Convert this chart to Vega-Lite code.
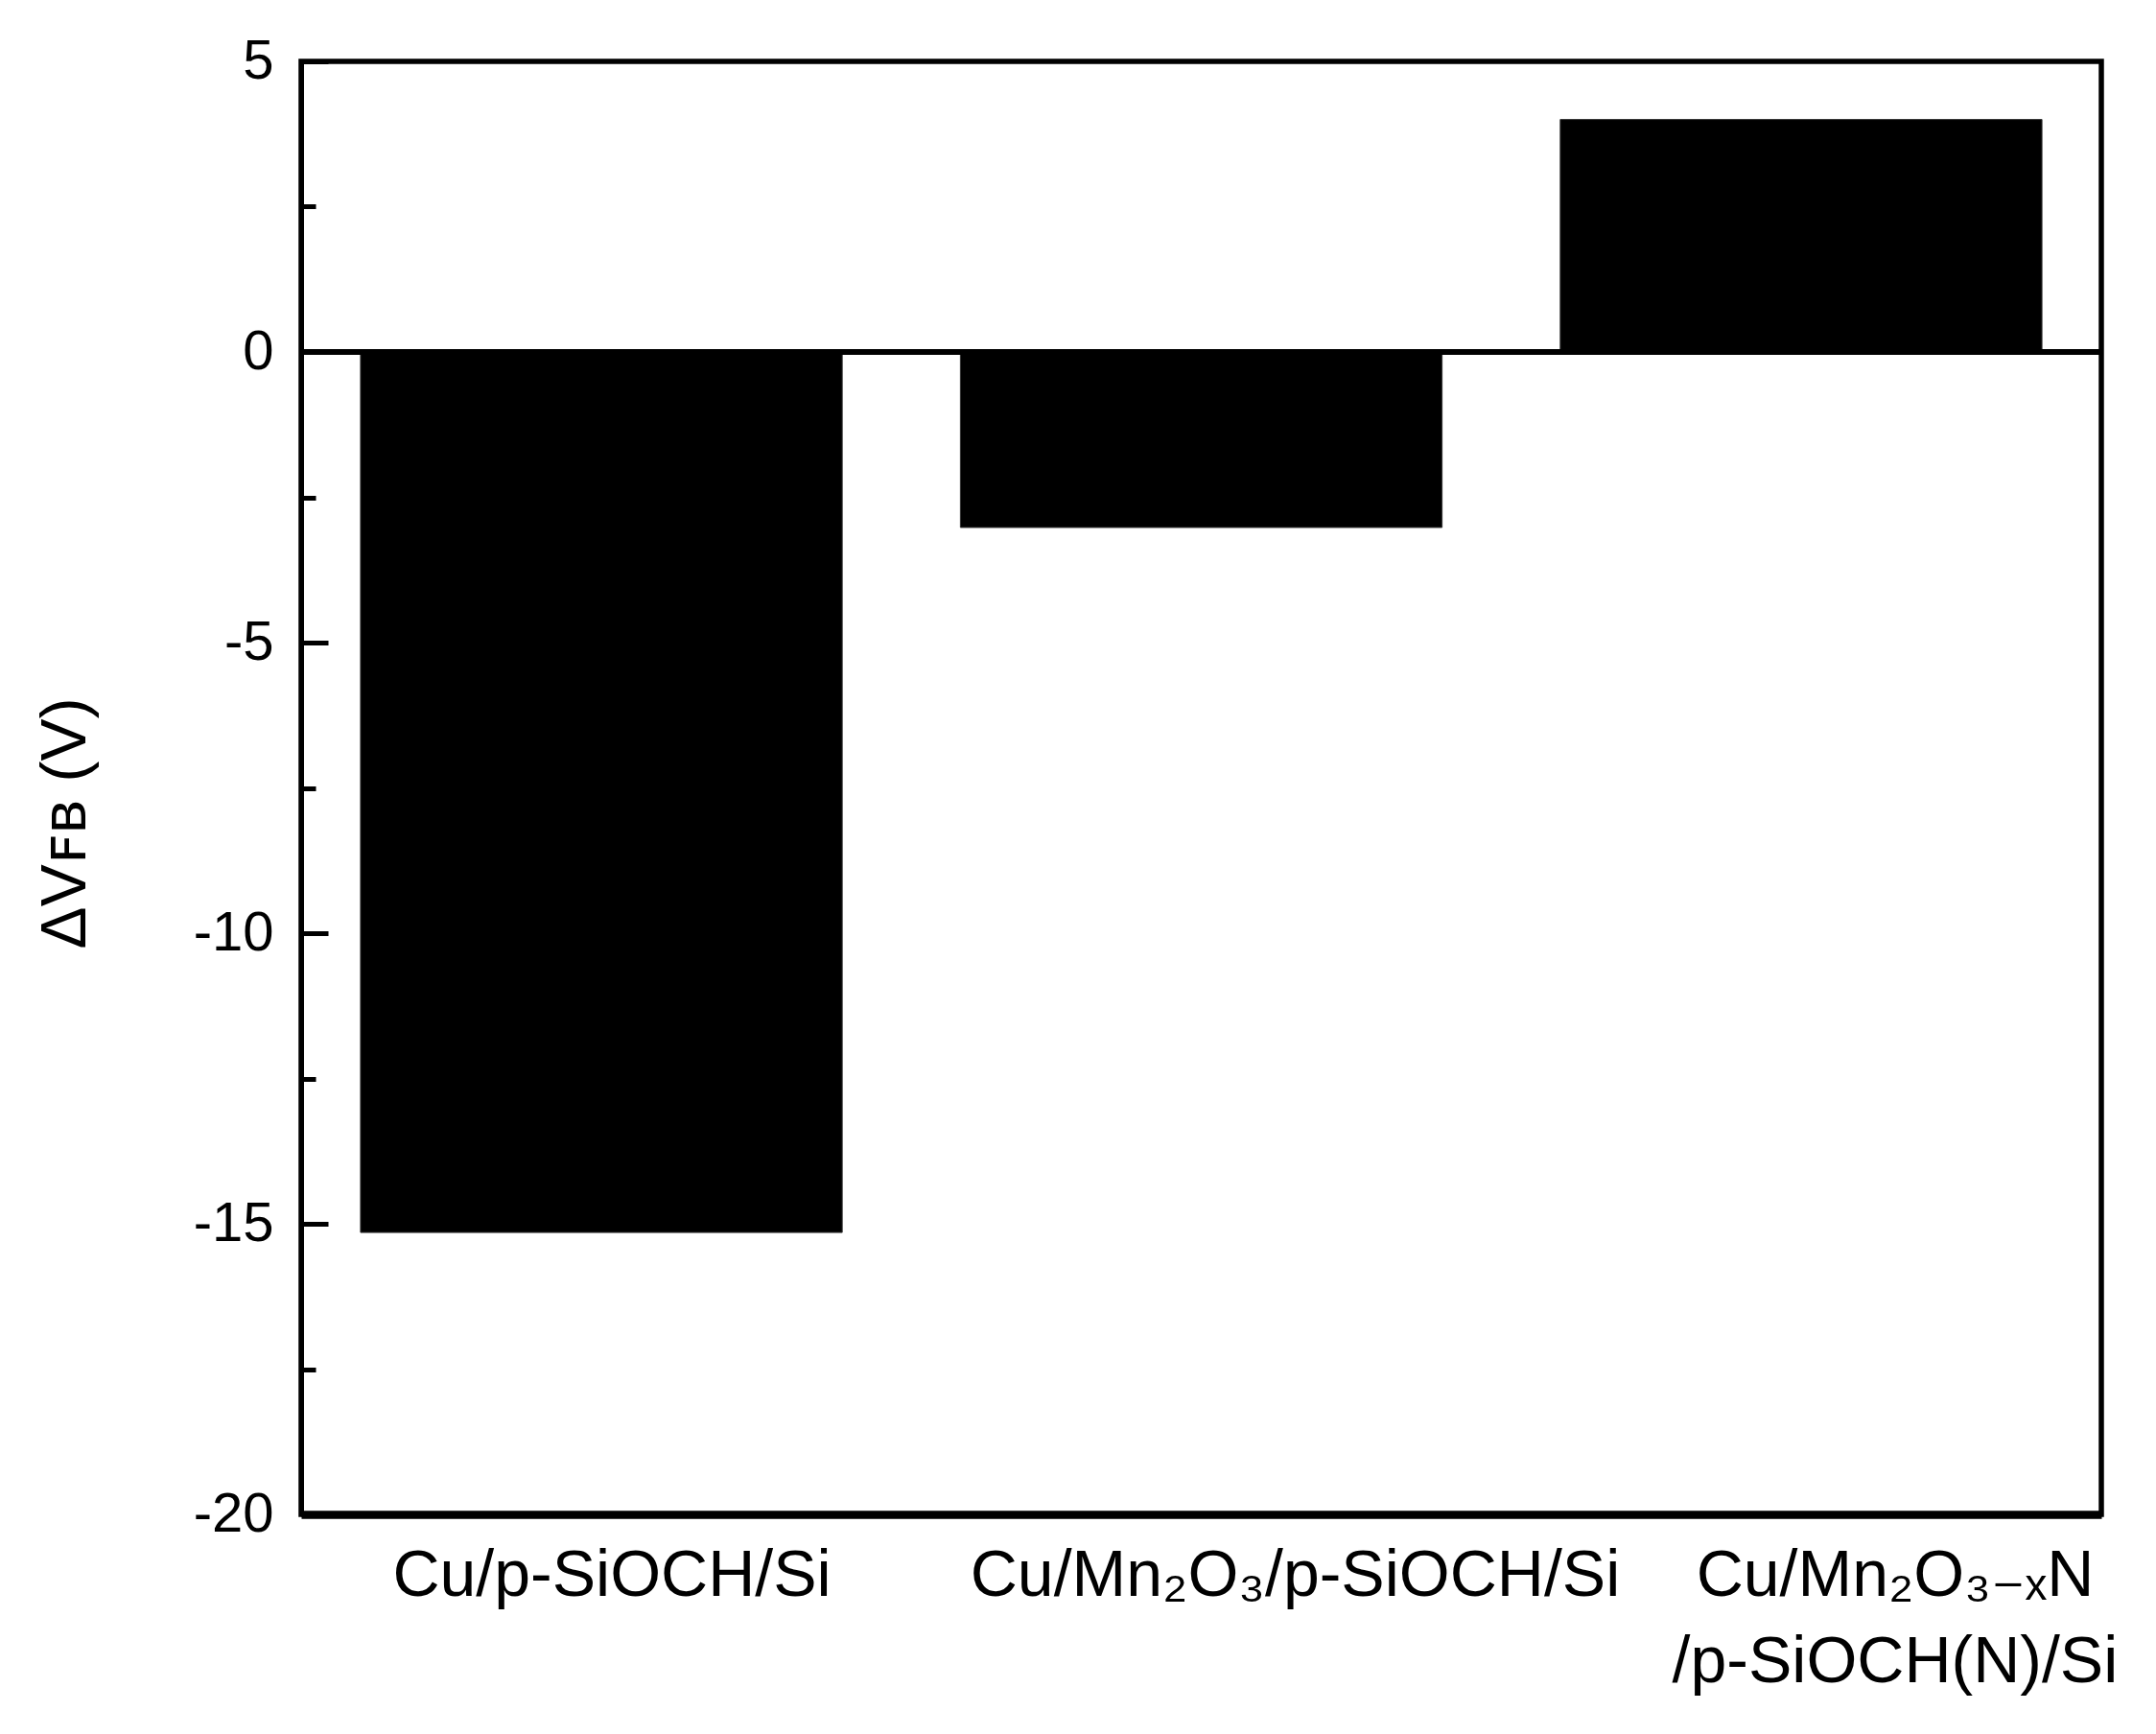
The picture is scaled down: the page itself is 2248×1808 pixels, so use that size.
{
  "$schema": "https://vega.github.io/schema/vega-lite/v6.json",
  "width": 1877,
  "height": 1515,
  "autosize": {"type": "none"},
  "padding": {"left": 314, "top": 64, "right": 57, "bottom": 229},
  "background": "white",
  "config": {
    "view": {"stroke": "black", "strokeWidth": 5.5},
    "font": "Liberation Sans"
  },
  "data": {
    "values": [
      {"sample": "Cu/p-SiOCH/Si", "dVfb": -15.15},
      {"sample": "Cu/Mn₂O₃/p-SiOCH/Si", "dVfb": -3.02},
      {"sample": "Cu/Mn₂O₃₋ₓN/p-SiOCH(N)/Si", "dVfb": 4.0}
    ]
  },
  "resolve": {"axis": {"y": "independent"}},
  "layer": [
    {
      "mark": {"type": "bar", "color": "black", "stroke": "#333333", "strokeWidth": 1},
      "encoding": {
        "x": {
          "field": "sample",
          "type": "nominal",
          "sort": null,
          "scale": {"paddingInner": 0.197, "paddingOuter": 0.099},
          "axis": {
            "title": null,
            "ticks": false,
            "domainWidth": 8.5,
            "domainColor": "black",
            "labelAngle": 0,
            "labelFont": "Liberation Sans, DejaVu Sans, sans-serif",
            "labelFontSize": 68,
            "labelColor": "black",
            "labelPadding": 30,
            "labelBaseline": "top",
            "labelLineHeight": 90,
            "labelLimit": 0,
            "labelOverlap": false,
            "labelExpr": "datum.label == 'Cu/Mn₂O₃₋ₓN/p-SiOCH(N)/Si' ? ['Cu/Mn₂O₃₋ₓN', '/p-SiOCH(N)/Si'] : datum.label",
            "labelOffset": {"condition": {"test": "datum.value == 'Cu/p-SiOCH/Si'", "value": 11}, "value": 98}
          }
        },
        "y": {
          "field": "dVfb",
          "type": "quantitative",
          "scale": {"domain": [-20, 5], "nice": false, "zero": false},
          "axis": {
            "orient": "left",
            "values": [-20, -15, -10, -5, 0, 5],
            "grid": false,
            "ticks": false,
            "domainWidth": 5,
            "domainColor": "black",
            "labelExpr": "toString(datum.value)",
            "labelFont": "Liberation Sans",
            "labelFontSize": 58,
            "labelColor": "black",
            "labelPadding": 29,
            "labelBaseline": "middle",
            "title": "ΔVꜰʙ (V)",
            "titleFont": "Liberation Sans, DejaVu Sans, sans-serif",
            "titleFontSize": 66,
            "titleFontWeight": "normal",
            "titleColor": "black",
            "titleAngle": 270,
            "titleAlign": "center",
            "titleBaseline": "alphabetic",
            "titleX": -226,
            "titleY": 794
          }
        }
      }
    },
    {
      "mark": {"type": "rule", "color": "black", "strokeWidth": 6},
      "encoding": {
        "y": {
          "datum": 0,
          "type": "quantitative",
          "axis": {
            "orient": "right",
            "offset": -1877,
            "values": [-20, -17.5, -15, -12.5, -10, -7.5, -5, -2.5, 0, 2.5, 5],
            "labels": false,
            "domain": false,
            "grid": false,
            "title": null,
            "tickColor": "black",
            "tickWidth": 5,
            "tickSize": {"condition": {"test": "datum.value % 5 == 0", "value": 28}, "value": 15}
          }
        }
      }
    }
  ]
}
